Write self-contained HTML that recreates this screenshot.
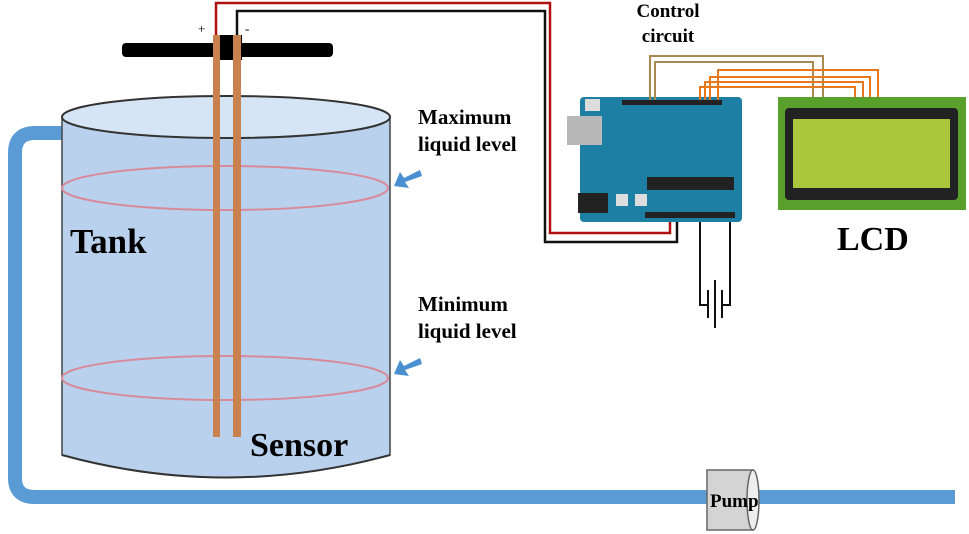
<!DOCTYPE html>
<html><head><meta charset="utf-8"><style>
html,body{margin:0;padding:0;background:#fff;}
svg{display:block;}
text{font-family:"Liberation Serif",serif;font-weight:bold;fill:#000;}
</style></head><body>
<svg width="969" height="534" viewBox="0 0 969 534" xmlns="http://www.w3.org/2000/svg">
<!-- pipe -->
<path d="M72,133 L35,133 Q15,133 15,153 L15,478 Q15,497 35,497 L955,497" fill="none" stroke="#5b9bd5" stroke-width="14"/>
<!-- tank -->
<path d="M62,117 L62,455 Q226,500 390,455 L390,117 Z" fill="#b9d1ec" stroke="#444" stroke-width="1.5"/>
<path d="M62,455 Q226,500 390,455" fill="none" stroke="#333" stroke-width="2"/>
<ellipse cx="226" cy="117" rx="164" ry="21" fill="#d6e5f5" stroke="#333" stroke-width="2"/>
<ellipse cx="225" cy="188" rx="163" ry="22" fill="none" stroke="#d88a9a" stroke-width="2"/>
<ellipse cx="225" cy="378" rx="163" ry="22" fill="none" stroke="#d88a9a" stroke-width="2"/>
<!-- sensor -->
<rect x="122" y="43" width="211" height="14" rx="4" fill="#000"/>
<rect x="220" y="35" width="22" height="25" fill="#000"/>
<rect x="213" y="35" width="7" height="402" fill="#c8814f"/>
<rect x="233" y="35" width="8" height="402" fill="#c8814f"/>
<!-- wires -->
<polyline points="216,35 216,3 550,3 550,233 670,233 670,220" fill="none" stroke="#b01010" stroke-width="2.5"/>
<polyline points="237,35 237,11 545,11 545,242 677,242 677,220" fill="none" stroke="#111" stroke-width="2.5"/>
<text x="198" y="33" font-size="13" style="font-weight:normal">+</text>
<text x="245" y="33" font-size="13" style="font-weight:normal">-</text>
<!-- arrows -->
<path d="M420,170 L404,178 L400,172 L394,186 L409,188 L405,182 L422,176 Z" fill="#4a8fd0"/>
<path d="M420,358 L404,366 L400,360 L394,374 L409,376 L405,370 L422,364 Z" fill="#4a8fd0"/>
<!-- arduino -->
<rect x="580" y="97" width="162" height="125" rx="4" fill="#1d7fa3"/>
<rect x="567" y="116" width="35" height="29" fill="#b8b8b8"/>
<rect x="578" y="193" width="30" height="20" fill="#222"/>
<rect x="647" y="177" width="87" height="13" fill="#222"/>
<rect x="622" y="100" width="100" height="5" fill="#222"/>
<rect x="645" y="212" width="90" height="6" fill="#222"/>
<rect x="585" y="99" width="15" height="12" fill="#ddd"/>
<rect x="616" y="194" width="12" height="12" fill="#ddd"/>
<rect x="635" y="194" width="12" height="12" fill="#ddd"/>
<!-- control wires -->
<g fill="none" stroke-width="2">
<polyline points="650,100 650,56 823,56 823,97" stroke="#a88a50"/>
<polyline points="655,100 655,62 813,62 813,97" stroke="#a88a50"/>
<polyline points="700,100 700,87 855,87 855,97" stroke="#e8781e"/>
<polyline points="705,100 705,82 863,82 863,97" stroke="#e8781e"/>
<polyline points="710,100 710,77 870,77 870,97" stroke="#e8781e"/>
<polyline points="718,100 718,70 878,70 878,97" stroke="#e8781e"/>
</g>
<!-- ground -->
<g fill="none" stroke="#111" stroke-width="2">
<polyline points="700,222 700,305 708,305 708,290"/>
<polyline points="730,222 730,305 722,305 722,290"/>
<line x1="708" y1="290" x2="708" y2="318"/>
<line x1="715" y1="280" x2="715" y2="328"/>
<line x1="722" y1="290" x2="722" y2="318"/>
</g>
<!-- LCD -->
<rect x="778" y="97" width="188" height="113" fill="#5aa02c"/>
<rect x="785" y="108" width="173" height="92" rx="4" fill="#222"/>
<rect x="793" y="119" width="157" height="69" fill="#a9c63c"/>
<!-- pump -->
<rect x="707" y="470" width="46" height="60" fill="#d4d4d4" stroke="#666" stroke-width="1.5"/>
<ellipse cx="753" cy="500" rx="6" ry="30" fill="#eee" stroke="#666" stroke-width="1.5"/>
<!-- text -->
<text x="668" y="17" font-size="19" text-anchor="middle">Control</text>
<text x="668" y="42" font-size="19" text-anchor="middle">circuit</text>
<text x="837" y="250" font-size="34">LCD</text>
<text x="418" y="124" font-size="21">Maximum</text>
<text x="418" y="151" font-size="21">liquid level</text>
<text x="418" y="311" font-size="21">Minimum</text>
<text x="418" y="338" font-size="21">liquid level</text>
<text x="70" y="253" font-size="35">Tank</text>
<text x="250" y="456" font-size="34">Sensor</text>
<text x="710" y="507" font-size="19">Pump</text>
</svg>
</body></html>
